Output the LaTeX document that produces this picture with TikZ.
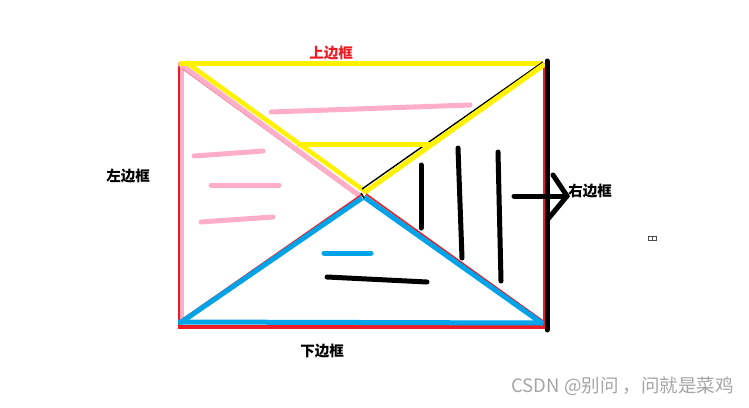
\documentclass[tikz,border=0pt]{standalone}
\usepackage{fontspec}
\newfontfamily\cjk{Noto Sans CJK SC}
\definecolor{pyellow}{RGB}{255,242,0}
\definecolor{pred}{RGB}{237,28,36}
\definecolor{ppink}{RGB}{255,174,201}
\definecolor{pblue}{RGB}{0,162,232}
\definecolor{wmgray}{RGB}{165,165,165}
\tikzset{
  thinred/.style={draw=pred,line width=1.6pt},
  thickstroke/.style={line width=5pt,line cap=round},
  label/.style={font=\cjk\bfseries\fontsize{14.5}{14.5}\selectfont,inner sep=0pt},
}
\begin{document}
\begin{tikzpicture}[x=1pt,y=-1pt]
\useasboundingbox[fill=white] (0,0) rectangle (749,407);
\coordinate (TL) at (180,63);
\coordinate (TR) at (546,63);
\coordinate (BL) at (180,324);
\coordinate (BR) at (546,324);
\coordinate (C) at (363,193);
% red rectangle
\draw[thinred] (179,64) -- (546,64);
\draw[thinred] (179,64) -- (179,327);
\draw[draw=pred,line width=4pt] (178,327) -- (546,327);
\draw[thinred] (544,64) -- (544,327);
% pink left edge and diagonal
\draw[ppink,line width=4.5pt] (182,64) -- (182,322);
\draw[thinred] (182,68) -- (359,197);
\draw[ppink,line width=5pt,line cap=round] (180,64) -- (360,196);
\draw[pyellow,line width=4.5pt] (186,62) -- (366,192);
% yellow top
\draw[pyellow,line width=5pt] (180,63) -- (543,63);
% black thin + yellow diagonal to top right
\draw[black,line width=1.4pt] (362,189) -- (543,62);
\draw[pyellow,line width=5pt] (365,192) -- (545,64);
% blue triangle
\draw[thinred] (180,321) -- (361,195);
\draw[thinred] (366,194) -- (543,321);
\draw[black,line width=1.2pt] (365,196) -- (540,320);
\draw[pblue,line width=5pt] (180,323) -- (362,198);
\draw[pblue,line width=5pt] (364,197) -- (543,324);
\draw[pblue,line width=5pt] (178,322) -- (543,323);
\draw[black,line width=1.5pt] (361,193) -- (364,198);
% black right edge
\draw[black,line width=5pt,line cap=round] (547,61) -- (547,330);
% pink strokes
\draw[ppink,thickstroke] (271,112) -- (470,105);
\draw[ppink,thickstroke] (194,156) -- (263,151);
\draw[ppink,thickstroke] (211,185) -- (279,185);
\draw[ppink,thickstroke] (201,222) -- (273,217);
% yellow horizontal stroke
\draw[pyellow,line width=5pt] (297,144) -- (433,144);
% blue short stroke
\draw[pblue,thickstroke] (324,253) -- (371,253);
% black strokes
\draw[black,thickstroke] (327,277) -- (427,282);
\draw[black,thickstroke] (421,165) -- (421,228);
\draw[black,thickstroke] (458,148) -- (462,258);
\draw[black,thickstroke] (498,152) -- (501,281);
% arrow
\coordinate (AT) at (567,196);
\draw[black,thickstroke] (514,196) -- (AT);
\draw[black,thickstroke] (553,175) -- (AT);
\draw[black,thickstroke] (548,219) -- (AT);
% labels
\node[label,text=pred] (top) at (331,53) {上边框};
\node[label] (bottom) at (322,351) {下边框};
\node[label] (left) at (128,176) {左边框};
\node[label] (right) at (590,191) {右边框};
% tofu glyph
\draw[black!70,line width=0.7pt] (648,236) rectangle (652,240) (652,236) rectangle (656,240);
% watermark
\node[font=\cjk\fontsize{18.5}{18.5}\selectfont,text=wmgray,anchor=east,inner sep=0pt] (wm) at (734,386) {CSDN @别问 ，问就是菜鸡};
\end{tikzpicture}
\end{document}
